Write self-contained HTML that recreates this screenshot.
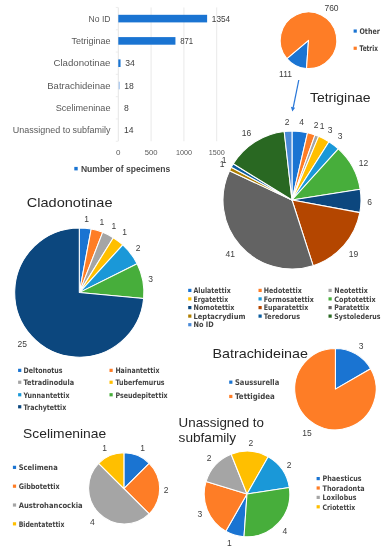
<!DOCTYPE html>
<html><head><meta charset="utf-8"><title>Specimens by subfamily</title>
<style>
html,body{margin:0;padding:0;background:#fff;}
body{width:385px;height:550px;overflow:hidden;}
svg{display:block;font-family:"Liberation Sans", "DejaVu Sans", sans-serif;filter:blur(0.35px);}
.lg{font-family:"DejaVu Sans", "Liberation Sans", sans-serif;}
.tt{font-family:"Liberation Sans", "DejaVu Sans", sans-serif;}
</style></head>
<body>
<svg width="385" height="550" viewBox="0 0 385 550">
<rect width="385" height="550" fill="#fff"/>
<line x1="118.30" y1="7.45" x2="118.30" y2="141.25" stroke="#E2E2E2" stroke-width="0.9"/>
<line x1="151.10" y1="7.45" x2="151.10" y2="141.25" stroke="#E6E6E6" stroke-width="0.9"/>
<line x1="183.90" y1="7.45" x2="183.90" y2="141.25" stroke="#E6E6E6" stroke-width="0.9"/>
<line x1="216.70" y1="7.45" x2="216.70" y2="141.25" stroke="#E6E6E6" stroke-width="0.9"/>
<line x1="115.8" y1="7.45" x2="118" y2="7.45" stroke="#E8E8E8" stroke-width="0.8"/>
<line x1="115.8" y1="29.75" x2="118" y2="29.75" stroke="#E8E8E8" stroke-width="0.8"/>
<line x1="115.8" y1="52.05" x2="118" y2="52.05" stroke="#E8E8E8" stroke-width="0.8"/>
<line x1="115.8" y1="74.35" x2="118" y2="74.35" stroke="#E8E8E8" stroke-width="0.8"/>
<line x1="115.8" y1="96.65" x2="118" y2="96.65" stroke="#E8E8E8" stroke-width="0.8"/>
<line x1="115.8" y1="118.95" x2="118" y2="118.95" stroke="#E8E8E8" stroke-width="0.8"/>
<line x1="115.8" y1="141.25" x2="118" y2="141.25" stroke="#E8E8E8" stroke-width="0.8"/>
<rect x="118.30" y="14.80" width="88.82" height="7.6" fill="#1A74D2"/>
<text x="110.50" y="21.70" font-size="8.6" fill="#595959" font-weight="normal" text-anchor="end" textLength="22.0" lengthAdjust="spacingAndGlyphs">No ID</text>
<text x="211.82" y="21.70" font-size="8.6" fill="#404040" font-weight="normal" text-anchor="start" textLength="18.3" lengthAdjust="spacingAndGlyphs">1354</text>
<rect x="118.30" y="37.10" width="57.14" height="7.6" fill="#1A74D2"/>
<text x="110.50" y="44.00" font-size="8.6" fill="#595959" font-weight="normal" text-anchor="end" textLength="39.1" lengthAdjust="spacingAndGlyphs">Tetriginae</text>
<text x="180.14" y="44.00" font-size="8.6" fill="#404040" font-weight="normal" text-anchor="start" textLength="13.0" lengthAdjust="spacingAndGlyphs">871</text>
<rect x="118.30" y="59.40" width="2.23" height="7.6" fill="#1A74D2"/>
<text x="110.50" y="66.30" font-size="8.6" fill="#595959" font-weight="normal" text-anchor="end" textLength="57.1" lengthAdjust="spacingAndGlyphs">Cladonotinae</text>
<text x="125.23" y="66.30" font-size="8.6" fill="#404040" font-weight="normal" text-anchor="start">34</text>
<rect x="118.70" y="81.70" width="1.0" height="7.6" fill="#93B9EA"/>
<text x="110.50" y="88.60" font-size="8.6" fill="#595959" font-weight="normal" text-anchor="end" textLength="63.2" lengthAdjust="spacingAndGlyphs">Batrachideinae</text>
<text x="124.18" y="88.60" font-size="8.6" fill="#404040" font-weight="normal" text-anchor="start">18</text>
<text x="110.50" y="110.90" font-size="8.6" fill="#595959" font-weight="normal" text-anchor="end" textLength="54.8" lengthAdjust="spacingAndGlyphs">Scelimeninae</text>
<text x="123.90" y="110.90" font-size="8.6" fill="#404040" font-weight="normal" text-anchor="start">8</text>
<text x="110.50" y="133.20" font-size="8.6" fill="#595959" font-weight="normal" text-anchor="end" textLength="97.7" lengthAdjust="spacingAndGlyphs">Unassigned to subfamily</text>
<text x="123.92" y="133.20" font-size="8.6" fill="#404040" font-weight="normal" text-anchor="start">14</text>
<text x="118.30" y="154.90" font-size="8.0" fill="#595959" font-weight="normal" text-anchor="middle">0</text>
<text x="151.10" y="154.90" font-size="8.0" fill="#595959" font-weight="normal" text-anchor="middle" textLength="12.8" lengthAdjust="spacingAndGlyphs">500</text>
<text x="183.90" y="154.90" font-size="8.0" fill="#595959" font-weight="normal" text-anchor="middle" textLength="16.0" lengthAdjust="spacingAndGlyphs">1000</text>
<text x="216.70" y="154.90" font-size="8.0" fill="#595959" font-weight="normal" text-anchor="middle" textLength="16.0" lengthAdjust="spacingAndGlyphs">1500</text>
<rect x="74.3" y="166.9" width="3.4" height="3.5" fill="#1A74D2"/>
<text x="80.90" y="171.50" font-size="8.7" fill="#454545" font-weight="bold" text-anchor="start" textLength="89.3" lengthAdjust="spacingAndGlyphs">Number of specimens</text>
<path d="M308.50,40.30 L306.53,68.53 A28.3,28.3 0 0 1 286.86,58.54 Z" fill="#1A74D2" stroke="#fff" stroke-width="1.05" stroke-linejoin="round"/>
<path d="M308.50,40.30 L286.86,58.54 A28.3,28.3 0 1 1 306.53,68.53 Z" fill="#FE7D26" stroke="#fff" stroke-width="1.05" stroke-linejoin="round"/>
<text x="331.50" y="11.04" font-size="8.5" fill="#404040" font-weight="normal" text-anchor="middle">760</text>
<text x="285.50" y="77.04" font-size="8.5" fill="#404040" font-weight="normal" text-anchor="middle">111</text>
<rect x="353.60" y="29.46" width="3.2" height="3.2" fill="#1A74D2"/>
<text x="359.50" y="33.90" font-size="7.9" fill="#434343" font-weight="bold" text-anchor="start" textLength="20.3" lengthAdjust="spacingAndGlyphs" class="lg">Other</text>
<rect x="353.60" y="46.66" width="3.2" height="3.2" fill="#FE7D26"/>
<text x="359.50" y="51.10" font-size="7.9" fill="#434343" font-weight="bold" text-anchor="start" textLength="18.4" lengthAdjust="spacingAndGlyphs" class="lg">Tetrix</text>
<line x1="298.8" y1="80.0" x2="293.2" y2="107.6" stroke="#2A78D8" stroke-width="1.25"/>
<path d="M292.3,111.4 L290.9,106.8 L295.1,107.7 Z" fill="#2A78D8"/>
<text x="309.90" y="102.20" font-size="13.2" fill="#262626" font-weight="normal" text-anchor="start" textLength="60.7" lengthAdjust="spacingAndGlyphs" class="tt">Tetriginae</text>
<path d="M292.00,200.00 L292.00,131.00 A69.0,69.0 0 0 1 307.49,132.76 Z" fill="#1A74D2" stroke="#fff" stroke-width="1.05" stroke-linejoin="round"/>
<path d="M292.00,200.00 L307.49,132.76 A69.0,69.0 0 0 1 314.99,134.94 Z" fill="#FE7D26" stroke="#fff" stroke-width="1.05" stroke-linejoin="round"/>
<path d="M292.00,200.00 L314.99,134.94 A69.0,69.0 0 0 1 318.63,136.35 Z" fill="#A5A5A5" stroke="#fff" stroke-width="1.05" stroke-linejoin="round"/>
<path d="M292.00,200.00 L318.63,136.35 A69.0,69.0 0 0 1 329.01,141.76 Z" fill="#FFBF00" stroke="#fff" stroke-width="1.05" stroke-linejoin="round"/>
<path d="M292.00,200.00 L329.01,141.76 A69.0,69.0 0 0 1 338.31,148.85 Z" fill="#1A98D8" stroke="#fff" stroke-width="1.05" stroke-linejoin="round"/>
<path d="M292.00,200.00 L338.31,148.85 A69.0,69.0 0 0 1 360.17,189.30 Z" fill="#47AE3B" stroke="#fff" stroke-width="1.05" stroke-linejoin="round"/>
<path d="M292.00,200.00 L360.17,189.30 A69.0,69.0 0 0 1 359.84,212.62 Z" fill="#0C477E" stroke="#fff" stroke-width="1.05" stroke-linejoin="round"/>
<path d="M292.00,200.00 L359.84,212.62 A69.0,69.0 0 0 1 313.14,265.68 Z" fill="#B44600" stroke="#fff" stroke-width="1.05" stroke-linejoin="round"/>
<path d="M292.00,200.00 L313.14,265.68 A69.0,69.0 0 0 1 229.53,170.69 Z" fill="#636363" stroke="#fff" stroke-width="1.05" stroke-linejoin="round"/>
<path d="M292.00,200.00 L229.53,170.69 A69.0,69.0 0 0 1 231.29,167.20 Z" fill="#AE7E00" stroke="#fff" stroke-width="1.05" stroke-linejoin="round"/>
<path d="M292.00,200.00 L231.29,167.20 A69.0,69.0 0 0 1 233.24,163.82 Z" fill="#0B5C9E" stroke="#fff" stroke-width="1.05" stroke-linejoin="round"/>
<path d="M292.00,200.00 L233.24,163.82 A69.0,69.0 0 0 1 284.21,131.44 Z" fill="#296822" stroke="#fff" stroke-width="1.05" stroke-linejoin="round"/>
<path d="M292.00,200.00 L284.21,131.44 A69.0,69.0 0 0 1 292.00,131.00 Z" fill="#4A8AD8" stroke="#fff" stroke-width="1.05" stroke-linejoin="round"/>
<text x="287.20" y="125.04" font-size="8.5" fill="#404040" font-weight="normal" text-anchor="middle">2</text>
<text x="301.70" y="125.04" font-size="8.5" fill="#404040" font-weight="normal" text-anchor="middle">4</text>
<text x="316.00" y="127.64" font-size="8.5" fill="#404040" font-weight="normal" text-anchor="middle">2</text>
<text x="322.00" y="129.04" font-size="8.5" fill="#404040" font-weight="normal" text-anchor="middle">1</text>
<text x="330.00" y="132.74" font-size="8.5" fill="#404040" font-weight="normal" text-anchor="middle">3</text>
<text x="340.20" y="139.34" font-size="8.5" fill="#404040" font-weight="normal" text-anchor="middle">3</text>
<text x="363.60" y="165.54" font-size="8.5" fill="#404040" font-weight="normal" text-anchor="middle">12</text>
<text x="369.50" y="204.64" font-size="8.5" fill="#404040" font-weight="normal" text-anchor="middle">6</text>
<text x="353.60" y="256.64" font-size="8.5" fill="#404040" font-weight="normal" text-anchor="middle">19</text>
<text x="230.30" y="256.54" font-size="8.5" fill="#404040" font-weight="normal" text-anchor="middle">41</text>
<text x="222.20" y="167.24" font-size="8.5" fill="#404040" font-weight="normal" text-anchor="middle">1</text>
<text x="224.20" y="162.84" font-size="8.5" fill="#404040" font-weight="normal" text-anchor="middle">1</text>
<text x="246.50" y="136.04" font-size="8.5" fill="#404040" font-weight="normal" text-anchor="middle">16</text>
<rect x="188.20" y="288.80" width="3.2" height="3.2" fill="#1A74D2"/>
<text x="193.50" y="293.10" font-size="7.5" fill="#434343" font-weight="bold" text-anchor="start" textLength="37.3" lengthAdjust="spacingAndGlyphs" class="lg">Alulatettix</text>
<rect x="258.50" y="288.80" width="3.2" height="3.2" fill="#FE7D26"/>
<text x="263.80" y="293.10" font-size="7.5" fill="#434343" font-weight="bold" text-anchor="start" textLength="38.0" lengthAdjust="spacingAndGlyphs" class="lg">Hedotettix</text>
<rect x="328.50" y="288.80" width="3.2" height="3.2" fill="#A5A5A5"/>
<text x="334.35" y="293.10" font-size="7.5" fill="#434343" font-weight="bold" text-anchor="start" textLength="33.5" lengthAdjust="spacingAndGlyphs" class="lg">Neotettix</text>
<rect x="188.20" y="297.30" width="3.2" height="3.2" fill="#FFBF00"/>
<text x="193.50" y="301.60" font-size="7.5" fill="#434343" font-weight="bold" text-anchor="start" textLength="34.6" lengthAdjust="spacingAndGlyphs" class="lg">Ergatettix</text>
<rect x="258.50" y="297.30" width="3.2" height="3.2" fill="#1A98D8"/>
<text x="263.80" y="301.60" font-size="7.5" fill="#434343" font-weight="bold" text-anchor="start" textLength="50.0" lengthAdjust="spacingAndGlyphs" class="lg">Formosatettix</text>
<rect x="328.50" y="297.30" width="3.2" height="3.2" fill="#47AE3B"/>
<text x="334.35" y="301.60" font-size="7.5" fill="#434343" font-weight="bold" text-anchor="start" textLength="41.2" lengthAdjust="spacingAndGlyphs" class="lg">Coptotettix</text>
<rect x="188.20" y="306.00" width="3.2" height="3.2" fill="#0C477E"/>
<text x="193.50" y="310.30" font-size="7.5" fill="#434343" font-weight="bold" text-anchor="start" textLength="41.0" lengthAdjust="spacingAndGlyphs" class="lg">Nomotettix</text>
<rect x="258.50" y="306.00" width="3.2" height="3.2" fill="#B44600"/>
<text x="263.80" y="310.30" font-size="7.5" fill="#434343" font-weight="bold" text-anchor="start" textLength="44.4" lengthAdjust="spacingAndGlyphs" class="lg">Euparatettix</text>
<rect x="328.50" y="306.00" width="3.2" height="3.2" fill="#636363"/>
<text x="334.35" y="310.30" font-size="7.5" fill="#434343" font-weight="bold" text-anchor="start" textLength="34.8" lengthAdjust="spacingAndGlyphs" class="lg">Paratettix</text>
<rect x="188.20" y="314.50" width="3.2" height="3.2" fill="#AE7E00"/>
<text x="193.50" y="318.80" font-size="7.5" fill="#434343" font-weight="bold" text-anchor="start" textLength="51.9" lengthAdjust="spacingAndGlyphs" class="lg">Leptacrydium</text>
<rect x="258.50" y="314.50" width="3.2" height="3.2" fill="#0B5C9E"/>
<text x="263.80" y="318.80" font-size="7.5" fill="#434343" font-weight="bold" text-anchor="start" textLength="36.2" lengthAdjust="spacingAndGlyphs" class="lg">Teredorus</text>
<rect x="328.50" y="314.50" width="3.2" height="3.2" fill="#296822"/>
<text x="334.35" y="318.80" font-size="7.5" fill="#434343" font-weight="bold" text-anchor="start" textLength="46.2" lengthAdjust="spacingAndGlyphs" class="lg">Systolederus</text>
<rect x="188.20" y="323.10" width="3.2" height="3.2" fill="#4A8AD8"/>
<text x="193.50" y="327.40" font-size="7.5" fill="#434343" font-weight="bold" text-anchor="start" textLength="20.2" lengthAdjust="spacingAndGlyphs" class="lg">No ID</text>
<text x="26.80" y="206.60" font-size="13.2" fill="#262626" font-weight="normal" text-anchor="start" textLength="85.7" lengthAdjust="spacingAndGlyphs" class="tt">Cladonotinae</text>
<path d="M79.30,292.60 L79.30,228.00 A64.6,64.6 0 0 1 91.17,229.10 Z" fill="#1A74D2" stroke="#fff" stroke-width="1.05" stroke-linejoin="round"/>
<path d="M79.30,292.60 L91.17,229.10 A64.6,64.6 0 0 1 102.64,232.36 Z" fill="#FE7D26" stroke="#fff" stroke-width="1.05" stroke-linejoin="round"/>
<path d="M79.30,292.60 L102.64,232.36 A64.6,64.6 0 0 1 113.31,237.68 Z" fill="#A5A5A5" stroke="#fff" stroke-width="1.05" stroke-linejoin="round"/>
<path d="M79.30,292.60 L113.31,237.68 A64.6,64.6 0 0 1 122.82,244.86 Z" fill="#FFBF00" stroke="#fff" stroke-width="1.05" stroke-linejoin="round"/>
<path d="M79.30,292.60 L122.82,244.86 A64.6,64.6 0 0 1 137.13,263.81 Z" fill="#1A98D8" stroke="#fff" stroke-width="1.05" stroke-linejoin="round"/>
<path d="M79.30,292.60 L137.13,263.81 A64.6,64.6 0 0 1 143.62,298.56 Z" fill="#47AE3B" stroke="#fff" stroke-width="1.05" stroke-linejoin="round"/>
<path d="M79.30,292.60 L143.62,298.56 A64.6,64.6 0 1 1 79.30,228.00 Z" fill="#0C477E" stroke="#fff" stroke-width="1.05" stroke-linejoin="round"/>
<text x="86.60" y="222.24" font-size="8.5" fill="#404040" font-weight="normal" text-anchor="middle">1</text>
<text x="101.80" y="225.04" font-size="8.5" fill="#404040" font-weight="normal" text-anchor="middle">1</text>
<text x="113.90" y="228.94" font-size="8.5" fill="#404040" font-weight="normal" text-anchor="middle">1</text>
<text x="124.60" y="235.34" font-size="8.5" fill="#404040" font-weight="normal" text-anchor="middle">1</text>
<text x="138.20" y="251.34" font-size="8.5" fill="#404040" font-weight="normal" text-anchor="middle">2</text>
<text x="150.60" y="282.04" font-size="8.5" fill="#404040" font-weight="normal" text-anchor="middle">3</text>
<text x="22.20" y="346.84" font-size="8.5" fill="#404040" font-weight="normal" text-anchor="middle">25</text>
<rect x="18.10" y="368.76" width="3.2" height="3.2" fill="#1A74D2"/>
<text x="23.50" y="373.10" font-size="7.6" fill="#434343" font-weight="bold" text-anchor="start" textLength="39.1" lengthAdjust="spacingAndGlyphs" class="lg">Deltonotus</text>
<rect x="109.50" y="368.76" width="3.2" height="3.2" fill="#FE7D26"/>
<text x="115.40" y="373.10" font-size="7.6" fill="#434343" font-weight="bold" text-anchor="start" textLength="44.1" lengthAdjust="spacingAndGlyphs" class="lg">Hainantettix</text>
<rect x="18.10" y="380.66" width="3.2" height="3.2" fill="#A5A5A5"/>
<text x="23.50" y="385.00" font-size="7.6" fill="#434343" font-weight="bold" text-anchor="start" textLength="50.6" lengthAdjust="spacingAndGlyphs" class="lg">Tetradinodula</text>
<rect x="109.50" y="380.66" width="3.2" height="3.2" fill="#FFBF00"/>
<text x="115.40" y="385.00" font-size="7.6" fill="#434343" font-weight="bold" text-anchor="start" textLength="49.2" lengthAdjust="spacingAndGlyphs" class="lg">Tuberfemurus</text>
<rect x="18.10" y="393.16" width="3.2" height="3.2" fill="#1A98D8"/>
<text x="23.50" y="397.50" font-size="7.6" fill="#434343" font-weight="bold" text-anchor="start" textLength="46.0" lengthAdjust="spacingAndGlyphs" class="lg">Yunnantettix</text>
<rect x="109.50" y="393.16" width="3.2" height="3.2" fill="#47AE3B"/>
<text x="115.40" y="397.50" font-size="7.6" fill="#434343" font-weight="bold" text-anchor="start" textLength="52.3" lengthAdjust="spacingAndGlyphs" class="lg">Pseudepitettix</text>
<rect x="18.10" y="405.16" width="3.2" height="3.2" fill="#0C477E"/>
<text x="23.50" y="409.50" font-size="7.6" fill="#434343" font-weight="bold" text-anchor="start" textLength="42.8" lengthAdjust="spacingAndGlyphs" class="lg">Trachytettix</text>
<text x="212.50" y="358.40" font-size="13.2" fill="#262626" font-weight="normal" text-anchor="start" textLength="95.5" lengthAdjust="spacingAndGlyphs" class="tt">Batrachideinae</text>
<path d="M335.40,389.10 L335.40,348.40 A40.7,40.7 0 0 1 370.65,368.75 Z" fill="#1A74D2" stroke="#fff" stroke-width="1.05" stroke-linejoin="round"/>
<path d="M335.40,389.10 L370.65,368.75 A40.7,40.7 0 1 1 335.40,348.40 Z" fill="#FE7D26" stroke="#fff" stroke-width="1.05" stroke-linejoin="round"/>
<text x="361.00" y="349.04" font-size="8.5" fill="#404040" font-weight="normal" text-anchor="middle">3</text>
<text x="307.00" y="436.44" font-size="8.5" fill="#404040" font-weight="normal" text-anchor="middle">15</text>
<rect x="229.20" y="380.56" width="3.2" height="3.2" fill="#1A74D2"/>
<text x="235.00" y="385.00" font-size="7.9" fill="#434343" font-weight="bold" text-anchor="start" textLength="44.2" lengthAdjust="spacingAndGlyphs" class="lg">Saussurella</text>
<rect x="229.20" y="394.86" width="3.2" height="3.2" fill="#FE7D26"/>
<text x="235.00" y="399.30" font-size="7.9" fill="#434343" font-weight="bold" text-anchor="start" textLength="39.8" lengthAdjust="spacingAndGlyphs" class="lg">Tettigidea</text>
<text x="23.10" y="437.60" font-size="13.2" fill="#262626" font-weight="normal" text-anchor="start" textLength="83.1" lengthAdjust="spacingAndGlyphs" class="tt">Scelimeninae</text>
<path d="M123.90,488.60 L123.90,452.80 A35.8,35.8 0 0 1 149.21,463.29 Z" fill="#1A74D2" stroke="#fff" stroke-width="1.05" stroke-linejoin="round"/>
<path d="M123.90,488.60 L149.21,463.29 A35.8,35.8 0 0 1 149.21,513.91 Z" fill="#FE7D26" stroke="#fff" stroke-width="1.05" stroke-linejoin="round"/>
<path d="M123.90,488.60 L149.21,513.91 A35.8,35.8 0 0 1 98.59,463.29 Z" fill="#A5A5A5" stroke="#fff" stroke-width="1.05" stroke-linejoin="round"/>
<path d="M123.90,488.60 L98.59,463.29 A35.8,35.8 0 0 1 123.90,452.80 Z" fill="#FFBF00" stroke="#fff" stroke-width="1.05" stroke-linejoin="round"/>
<text x="142.50" y="450.84" font-size="8.5" fill="#404040" font-weight="normal" text-anchor="middle">1</text>
<text x="166.00" y="492.64" font-size="8.5" fill="#404040" font-weight="normal" text-anchor="middle">2</text>
<text x="92.30" y="525.04" font-size="8.5" fill="#404040" font-weight="normal" text-anchor="middle">4</text>
<text x="104.50" y="450.84" font-size="8.5" fill="#404040" font-weight="normal" text-anchor="middle">1</text>
<rect x="12.90" y="465.76" width="3.2" height="3.2" fill="#1A74D2"/>
<text x="18.70" y="470.10" font-size="7.6" fill="#434343" font-weight="bold" text-anchor="start" textLength="39.0" lengthAdjust="spacingAndGlyphs" class="lg">Scelimena</text>
<rect x="12.90" y="484.59" width="3.2" height="3.2" fill="#FE7D26"/>
<text x="18.70" y="488.93" font-size="7.6" fill="#434343" font-weight="bold" text-anchor="start" textLength="41.0" lengthAdjust="spacingAndGlyphs" class="lg">Gibbotettix</text>
<rect x="12.90" y="503.42" width="3.2" height="3.2" fill="#A5A5A5"/>
<text x="18.70" y="507.76" font-size="7.6" fill="#434343" font-weight="bold" text-anchor="start" textLength="63.9" lengthAdjust="spacingAndGlyphs" class="lg">Austrohancockia</text>
<rect x="12.90" y="522.25" width="3.2" height="3.2" fill="#FFBF00"/>
<text x="18.70" y="526.59" font-size="7.6" fill="#434343" font-weight="bold" text-anchor="start" textLength="45.7" lengthAdjust="spacingAndGlyphs" class="lg">Bidentatettix</text>
<text x="178.60" y="426.90" font-size="13.2" fill="#262626" font-weight="normal" text-anchor="start" textLength="85.4" lengthAdjust="spacingAndGlyphs" class="tt">Unassigned to</text>
<text x="178.60" y="442.40" font-size="13.2" fill="#262626" font-weight="normal" text-anchor="start" textLength="57.6" lengthAdjust="spacingAndGlyphs" class="tt">subfamily</text>
<path d="M247.00,494.00 L244.01,536.70 A42.8,42.8 0 0 1 225.79,531.17 Z" fill="#1A74D2" stroke="#fff" stroke-width="1.05" stroke-linejoin="round"/>
<path d="M247.00,494.00 L225.79,531.17 A42.8,42.8 0 0 1 206.04,481.59 Z" fill="#FE7D26" stroke="#fff" stroke-width="1.05" stroke-linejoin="round"/>
<path d="M247.00,494.00 L206.04,481.59 A42.8,42.8 0 0 1 231.16,454.24 Z" fill="#A5A5A5" stroke="#fff" stroke-width="1.05" stroke-linejoin="round"/>
<path d="M247.00,494.00 L231.16,454.24 A42.8,42.8 0 0 1 268.21,456.83 Z" fill="#FFBF00" stroke="#fff" stroke-width="1.05" stroke-linejoin="round"/>
<path d="M247.00,494.00 L268.21,456.83 A42.8,42.8 0 0 1 289.29,487.41 Z" fill="#1A98D8" stroke="#fff" stroke-width="1.05" stroke-linejoin="round"/>
<path d="M247.00,494.00 L289.29,487.41 A42.8,42.8 0 0 1 244.01,536.70 Z" fill="#47AE3B" stroke="#fff" stroke-width="1.05" stroke-linejoin="round"/>
<text x="250.80" y="445.64" font-size="8.5" fill="#404040" font-weight="normal" text-anchor="middle">2</text>
<text x="289.20" y="467.64" font-size="8.5" fill="#404040" font-weight="normal" text-anchor="middle">2</text>
<text x="284.80" y="534.24" font-size="8.5" fill="#404040" font-weight="normal" text-anchor="middle">4</text>
<text x="229.30" y="546.24" font-size="8.5" fill="#404040" font-weight="normal" text-anchor="middle">1</text>
<text x="199.80" y="516.84" font-size="8.5" fill="#404040" font-weight="normal" text-anchor="middle">3</text>
<text x="209.20" y="461.04" font-size="8.5" fill="#404040" font-weight="normal" text-anchor="middle">2</text>
<rect x="316.60" y="477.00" width="3.2" height="3.2" fill="#1A74D2"/>
<text x="322.60" y="481.30" font-size="7.5" fill="#434343" font-weight="bold" text-anchor="start" textLength="39.0" lengthAdjust="spacingAndGlyphs" class="lg">Phaesticus</text>
<rect x="316.60" y="486.40" width="3.2" height="3.2" fill="#FE7D26"/>
<text x="322.60" y="490.70" font-size="7.5" fill="#434343" font-weight="bold" text-anchor="start" textLength="42.0" lengthAdjust="spacingAndGlyphs" class="lg">Thoradonta</text>
<rect x="316.60" y="495.80" width="3.2" height="3.2" fill="#A5A5A5"/>
<text x="322.60" y="500.10" font-size="7.5" fill="#434343" font-weight="bold" text-anchor="start" textLength="33.8" lengthAdjust="spacingAndGlyphs" class="lg">Loxilobus</text>
<rect x="316.60" y="505.20" width="3.2" height="3.2" fill="#FFBF00"/>
<text x="322.60" y="509.50" font-size="7.5" fill="#434343" font-weight="bold" text-anchor="start" textLength="32.7" lengthAdjust="spacingAndGlyphs" class="lg">Criotettix</text>
</svg>
</body></html>
